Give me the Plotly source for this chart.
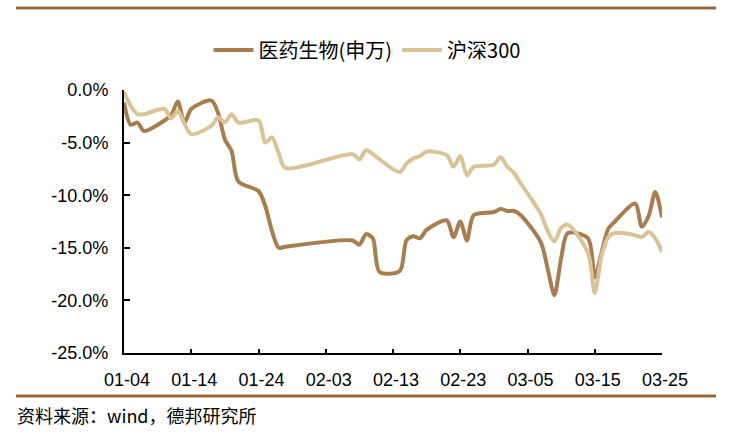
import plotly.graph_objects as go

dates = [
    "2022-01-04", "2022-01-05", "2022-01-06", "2022-01-07",
    "2022-01-10", "2022-01-11", "2022-01-12", "2022-01-13", "2022-01-14",
    "2022-01-17", "2022-01-18", "2022-01-19", "2022-01-20", "2022-01-21",
    "2022-01-24", "2022-01-25", "2022-01-26", "2022-01-27", "2022-01-28",
    "2022-02-07", "2022-02-08", "2022-02-09", "2022-02-10", "2022-02-11",
    "2022-02-14", "2022-02-15", "2022-02-16", "2022-02-17", "2022-02-18",
    "2022-02-21", "2022-02-22", "2022-02-23", "2022-02-24", "2022-02-25",
    "2022-02-28", "2022-03-01", "2022-03-02", "2022-03-03", "2022-03-04",
    "2022-03-07", "2022-03-08", "2022-03-09", "2022-03-10", "2022-03-11",
    "2022-03-14", "2022-03-15", "2022-03-16", "2022-03-17", "2022-03-18",
    "2022-03-21", "2022-03-22", "2022-03-23", "2022-03-24", "2022-03-25",
]

pharma = [
    -1.2, -3.3, -3.1, -3.9,
    -2.9, -2.4, -1.1, -3.1, -1.8,
    -1.0, -2.2, -4.7, -5.8, -8.7,
    -9.6, -11.0, -13.4, -15.0, -14.9,
    -14.3, -14.7, -13.7, -14.1, -17.3,
    -17.2, -14.3, -13.9, -14.1, -13.3,
    -12.4, -14.0, -12.5, -14.3, -11.9,
    -11.6, -11.3, -11.5, -11.5, -11.9,
    -14.5, -17.0, -19.5, -16.0, -13.6,
    -14.1, -17.8, -15.5, -13.2, -12.5,
    -10.8, -13.0, -12.0, -9.7, -12.1,
]

hs300 = [
    -0.2, -1.5, -2.3, -2.3,
    -1.8, -2.7, -2.0, -3.2, -4.2,
    -3.4, -2.6, -3.1, -2.3, -3.1,
    -2.9, -5.0, -4.5, -6.0, -7.4,
    -6.1, -6.6, -5.7, -6.1, -6.6,
    -7.8, -7.0, -6.5, -6.3, -5.85,
    -6.2, -7.3, -6.3, -8.1, -7.3,
    -7.1, -6.4, -7.3, -7.9, -8.9,
    -11.8, -13.4, -14.4, -13.1, -12.8,
    -15.5, -19.3, -15.8, -14.0, -13.6,
    -13.8, -14.0, -13.5, -14.1, -15.4,
]

series_names = ["医药生物(申万)", "沪深300"]
y_ticks = [0, -5, -10, -15, -20, -25]
y_ticktext = ["0.0%", "-5.0%", "-10.0%", "-15.0%", "-20.0%", "-25.0%"]
source_text = "资料来源：wind，德邦研究所"

C_PHARMA = "#A87D50"
C_HS300 = "#D8C496"
C_RULE = "#9A683F"

fig = go.Figure()
fig.add_trace(go.Scatter(x=dates, y=pharma, name=series_names[0], mode="lines",
                         line=dict(color=C_PHARMA, width=4, shape="spline", smoothing=0.8)))
fig.add_trace(go.Scatter(x=dates, y=hs300, name=series_names[1], mode="lines",
                         line=dict(color=C_HS300, width=4, shape="spline", smoothing=0.8)))

W, H = 739, 441
L, R, T, B = 124, 77, 90, 88
pw, ph = W - L - R, H - T - B

def px_x(x):
    return (x - L) / pw

def px_y(y):
    return (H - B - y) / ph

fig.update_layout(
    width=W, height=H,
    margin=dict(l=L, r=R, t=T, b=B),
    paper_bgcolor="white", plot_bgcolor="white",
    font=dict(family="Liberation Sans, Arial, sans-serif", size=18, color="#000000"),
    showlegend=True,
    legend=dict(orientation="h", x=px_x(367), y=px_y(50), xanchor="center", yanchor="middle",
                font=dict(family="Noto Sans CJK SC, Liberation Sans, sans-serif", size=20),
                bgcolor="rgba(0,0,0,0)", itemwidth=40, tracegroupgap=0),
    xaxis=dict(
        type="date", range=["2022-01-04", "2022-03-25"],
        tick0="2022-01-04", dtick=10 * 86400000, tickformat="%m-%d",
        showline=True, linecolor="#000000", linewidth=2,
        ticks="inside", ticklen=4, tickcolor="#000000", tickwidth=1.5,
        showgrid=False, zeroline=False, ticklabelshift=3, ticklabelstandoff=9,
        tickfont=dict(size=18),
    ),
    yaxis=dict(
        range=[-25, 0], tickvals=y_ticks, ticktext=y_ticktext,
        showline=True, linecolor="#000000", linewidth=2,
        ticks="inside", ticklen=6, tickcolor="#000000", tickwidth=2,
        showgrid=False, zeroline=False, ticklabelstandoff=10,
        tickfont=dict(size=18),
    ),
    shapes=[
        dict(type="line", xref="paper", yref="paper", x0=px_x(16), x1=px_x(716),
             y0=px_y(8), y1=px_y(8), line=dict(color=C_RULE, width=3)),
        dict(type="line", xref="paper", yref="paper", x0=px_x(16), x1=px_x(716),
             y0=px_y(396), y1=px_y(396), line=dict(color=C_RULE, width=3)),
    ],
    annotations=[
        dict(text=source_text, xref="paper", yref="paper", x=px_x(15), y=px_y(415),
             xanchor="left", yanchor="middle", showarrow=False,
             font=dict(family="Noto Sans CJK SC, sans-serif", size=18, color="#000000")),
    ],
)

fig.write_html("out.html")
